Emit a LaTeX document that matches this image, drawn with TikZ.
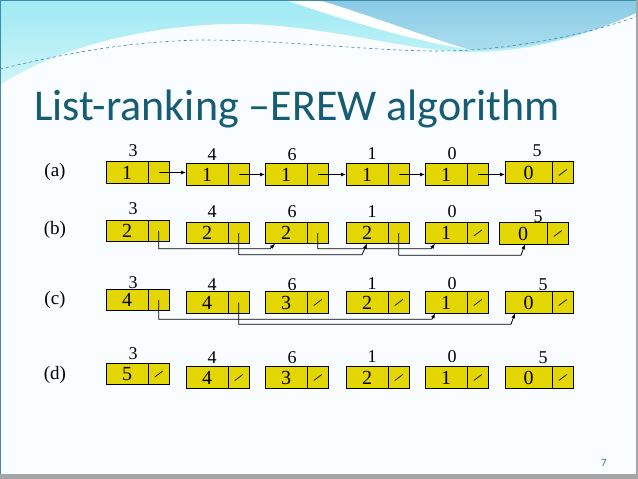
\documentclass[tikz,border=0pt]{standalone}
\usepackage{fontspec}
\setmainfont{Liberation Serif}
\newfontfamily\titlefont{Carlito}
\usetikzlibrary{positioning,arrows.meta}
\definecolor{boxyellow}{RGB}{228,214,0}
\definecolor{titleblue}{RGB}{22,92,116}
\definecolor{wavecyan}{RGB}{160,234,244}
\definecolor{wavecyanlight}{RGB}{206,245,248}
\definecolor{waveblue}{RGB}{138,202,230}
\definecolor{wavebluelight}{RGB}{170,222,238}
\definecolor{waveline}{RGB}{60,140,165}
\definecolor{pagegray}{RGB}{165,165,165}
\definecolor{pagenum}{RGB}{70,120,140}

\tikzset{
  cellval/.style={draw, fill=boxyellow, line width=0.9pt, minimum width=42pt, minimum height=21.5pt, inner sep=0pt, outer sep=0pt, anchor=west, font=\fontsize{20}{20}\selectfont},
  cellptr/.style={draw, fill=boxyellow, line width=0.9pt, minimum width=21.5pt, minimum height=21.5pt, inner sep=0pt, outer sep=0pt},
  plainptr/.style={},
  nilptr/.style={path picture={\draw[line width=0.7pt] ([xshift=-4pt,yshift=-3pt]path picture bounding box.center) -- ([xshift=4pt,yshift=3pt]path picture bounding box.center);}},
  ranklabel/.style={font=\fontsize{18}{18}\selectfont, inner sep=0pt},
  rowlabel/.style={font=\fontsize{19}{19}\selectfont, inner sep=0pt},
  ptrarrow/.style={line width=0.8pt, -{Latex[length=5pt,width=4pt]}}
}

\begin{document}
\begin{tikzpicture}[x=1pt, y=-1pt]
    \useasboundingbox (0,0) rectangle (638,479);
    % slide background
    \fill[white!98!cyan] (0,0) rectangle (638,479);
    \shade[top color=wavecyan, bottom color=wavecyanlight] (0,0) -- (638,0) -- (638,12) .. controls (600,30) and (540,52) .. (470,52) .. controls (400,50) and (340,28) .. (250,24) .. controls (160,22) and (60,45) .. (0,85) -- cycle;
    \shade[top color=waveblue, bottom color=wavebluelight] (318,0) -- (638,0) -- (638,12) .. controls (600,30) and (540,50) .. (470,50) .. controls (420,35) and (360,12) .. (318,0) -- cycle;
    \fill[white] (285,0) -- (318,0) .. controls (360,12) and (420,35) .. (470,50) .. controls (400,38) and (330,15) .. (285,0) -- cycle;
    \draw[waveline, dashed, line width=0.6pt] (0,69) .. controls (60,55) and (120,42) .. (200,40) .. controls (300,40) and (400,55) .. (470,50) .. controls (540,45) and (600,30) .. (638,16);
    \fill[pagegray] (0,474) rectangle (638,479);
    \fill[pagegray] (636,0) rectangle (638,479);
    \draw[waveline, line width=1pt] (0.5,0) -- (0.5,474);
    \draw[waveline, line width=1pt] (0,0.5) -- (636,0.5);
    \node[anchor=base west, inner sep=0pt, font=\titlefont\fontsize{44}{44}\selectfont, text=titleblue] (title) at (34,120) {List-ranking –EREW algorithm};
    \node[font=\titlefont\fontsize{11}{11}\selectfont, text=pagenum] (pnum) at (604,463) {7};

    % row labels
    \foreach \r/\y in {a/172,b/230,c/300,d/375}{\node[rowlabel] (row\r) at (55,\y) {(\r)};}

    % (a)
    \foreach \n/\x/\y/\v/\s in {1/106/172.5/1/plainptr,2/186/174.5/1/plainptr,3/265/174.5/1/plainptr,4/346/174.5/1/plainptr,5/425/174.5/1/plainptr}{
        \node[cellval] (a\n) at (\x,\y) {\v};
        \node[cellptr, \s, right=0pt of a\n] (pa\n) {};}
    \node[cellval, minimum width=47pt] (a6) at (505,172.5) {0};
    \node[cellptr, nilptr, right=0pt of a6] (pa6) {};
    \foreach \n/\x/\y/\r in {1/133/151/3,2/212/155/4,3/292/155/6,4/372/154/1,5/452/154/0,6/537/151/5}{\node[ranklabel] (ra\n) at (\x,\y) {\r};}
    \foreach \i/\j in {1/2,2/3,3/4,4/5,5/6}{\draw[ptrarrow] (pa\i.center) -- (pa\i.center -| a\j.west);}

    % (b)
    \foreach \n/\x/\y/\v/\s in {1/106/231/2/plainptr,2/186/233/2/plainptr,3/265/233/2/plainptr,4/346/233/2/plainptr,5/425/233/1/nilptr}{
        \node[cellval] (b\n) at (\x,\y) {\v};
        \node[cellptr, \s, right=0pt of b\n] (pb\n) {};}
    \node[cellval, minimum width=48pt] (b6) at (499,233.5) {0};
    \node[cellptr, nilptr, right=0pt of b6] (pb6) {};
    \foreach \n/\x/\y/\r in {1/133/209/3,2/212/212/4,3/292/212/6,4/372/212/1,5/452/212/0,6/538/217/5}{\node[ranklabel] (rb\n) at (\x,\y) {\r};}
    \draw[ptrarrow] (pb1.center) |- ([xshift=5pt,yshift=-5pt]b3.south west) -- ([xshift=10pt]b3.south west);
    \draw[ptrarrow] (pb2.center) |- ([xshift=16pt,yshift=-11pt]b4.south west) -- ([xshift=21pt]b4.south west);
    \draw[ptrarrow] (pb3.center) |- ([xshift=6pt,yshift=-5pt]b5.south west) -- ([xshift=10pt]b5.south west);
    \draw[ptrarrow] (pb4.center) |- ([xshift=22pt,yshift=-11pt]b6.south west) -- ([xshift=26pt]b6.south west);

    % (c)
    \foreach \n/\x/\y/\v/\s in {1/106/300/4/plainptr,2/186/302.5/4/plainptr,3/265/302.5/3/nilptr,4/346/302.5/2/nilptr,5/425/302.5/1/nilptr}{
        \node[cellval] (c\n) at (\x,\y) {\v};
        \node[cellptr, \s, right=0pt of c\n] (pc\n) {};}
    \node[cellval, minimum width=47pt] (c6) at (505,302.5) {0};
    \node[cellptr, nilptr, right=0pt of c6] (pc6) {};
    \foreach \n/\x/\y/\r in {1/133/283/3,2/212/285/4,3/292/285/6,4/372/284/1,5/452/284/0,6/543/285/5}{\node[ranklabel] (rc\n) at (\x,\y) {\r};}
    \draw[ptrarrow] (pc1.center) |- ([xshift=7pt,yshift=-6pt]c5.south west) -- ([xshift=10pt]c5.south west);
    \draw[ptrarrow] (pc2.center) |- ([xshift=6pt,yshift=-11pt]c6.south west) -- ([xshift=10pt]c6.south west);

    % (d)
    \foreach \n/\x/\y/\v in {1/106/374/5,2/186/377.5/4,3/265/377.5/3,4/346/377.5/2,5/425/377.5/1}{
        \node[cellval] (d\n) at (\x,\y) {\v};
        \node[cellptr, nilptr, right=0pt of d\n] (pd\n) {};}
    \node[cellval, minimum width=47pt] (d6) at (505,377.5) {0};
    \node[cellptr, nilptr, right=0pt of d6] (pd6) {};
    \foreach \n/\x/\y/\r in {1/133/354/3,2/212/358/4,3/292/358/6,4/372/357/1,5/452/357/0,6/543/358/5}{\node[ranklabel] (rd\n) at (\x,\y) {\r};}
\end{tikzpicture}
\end{document}
